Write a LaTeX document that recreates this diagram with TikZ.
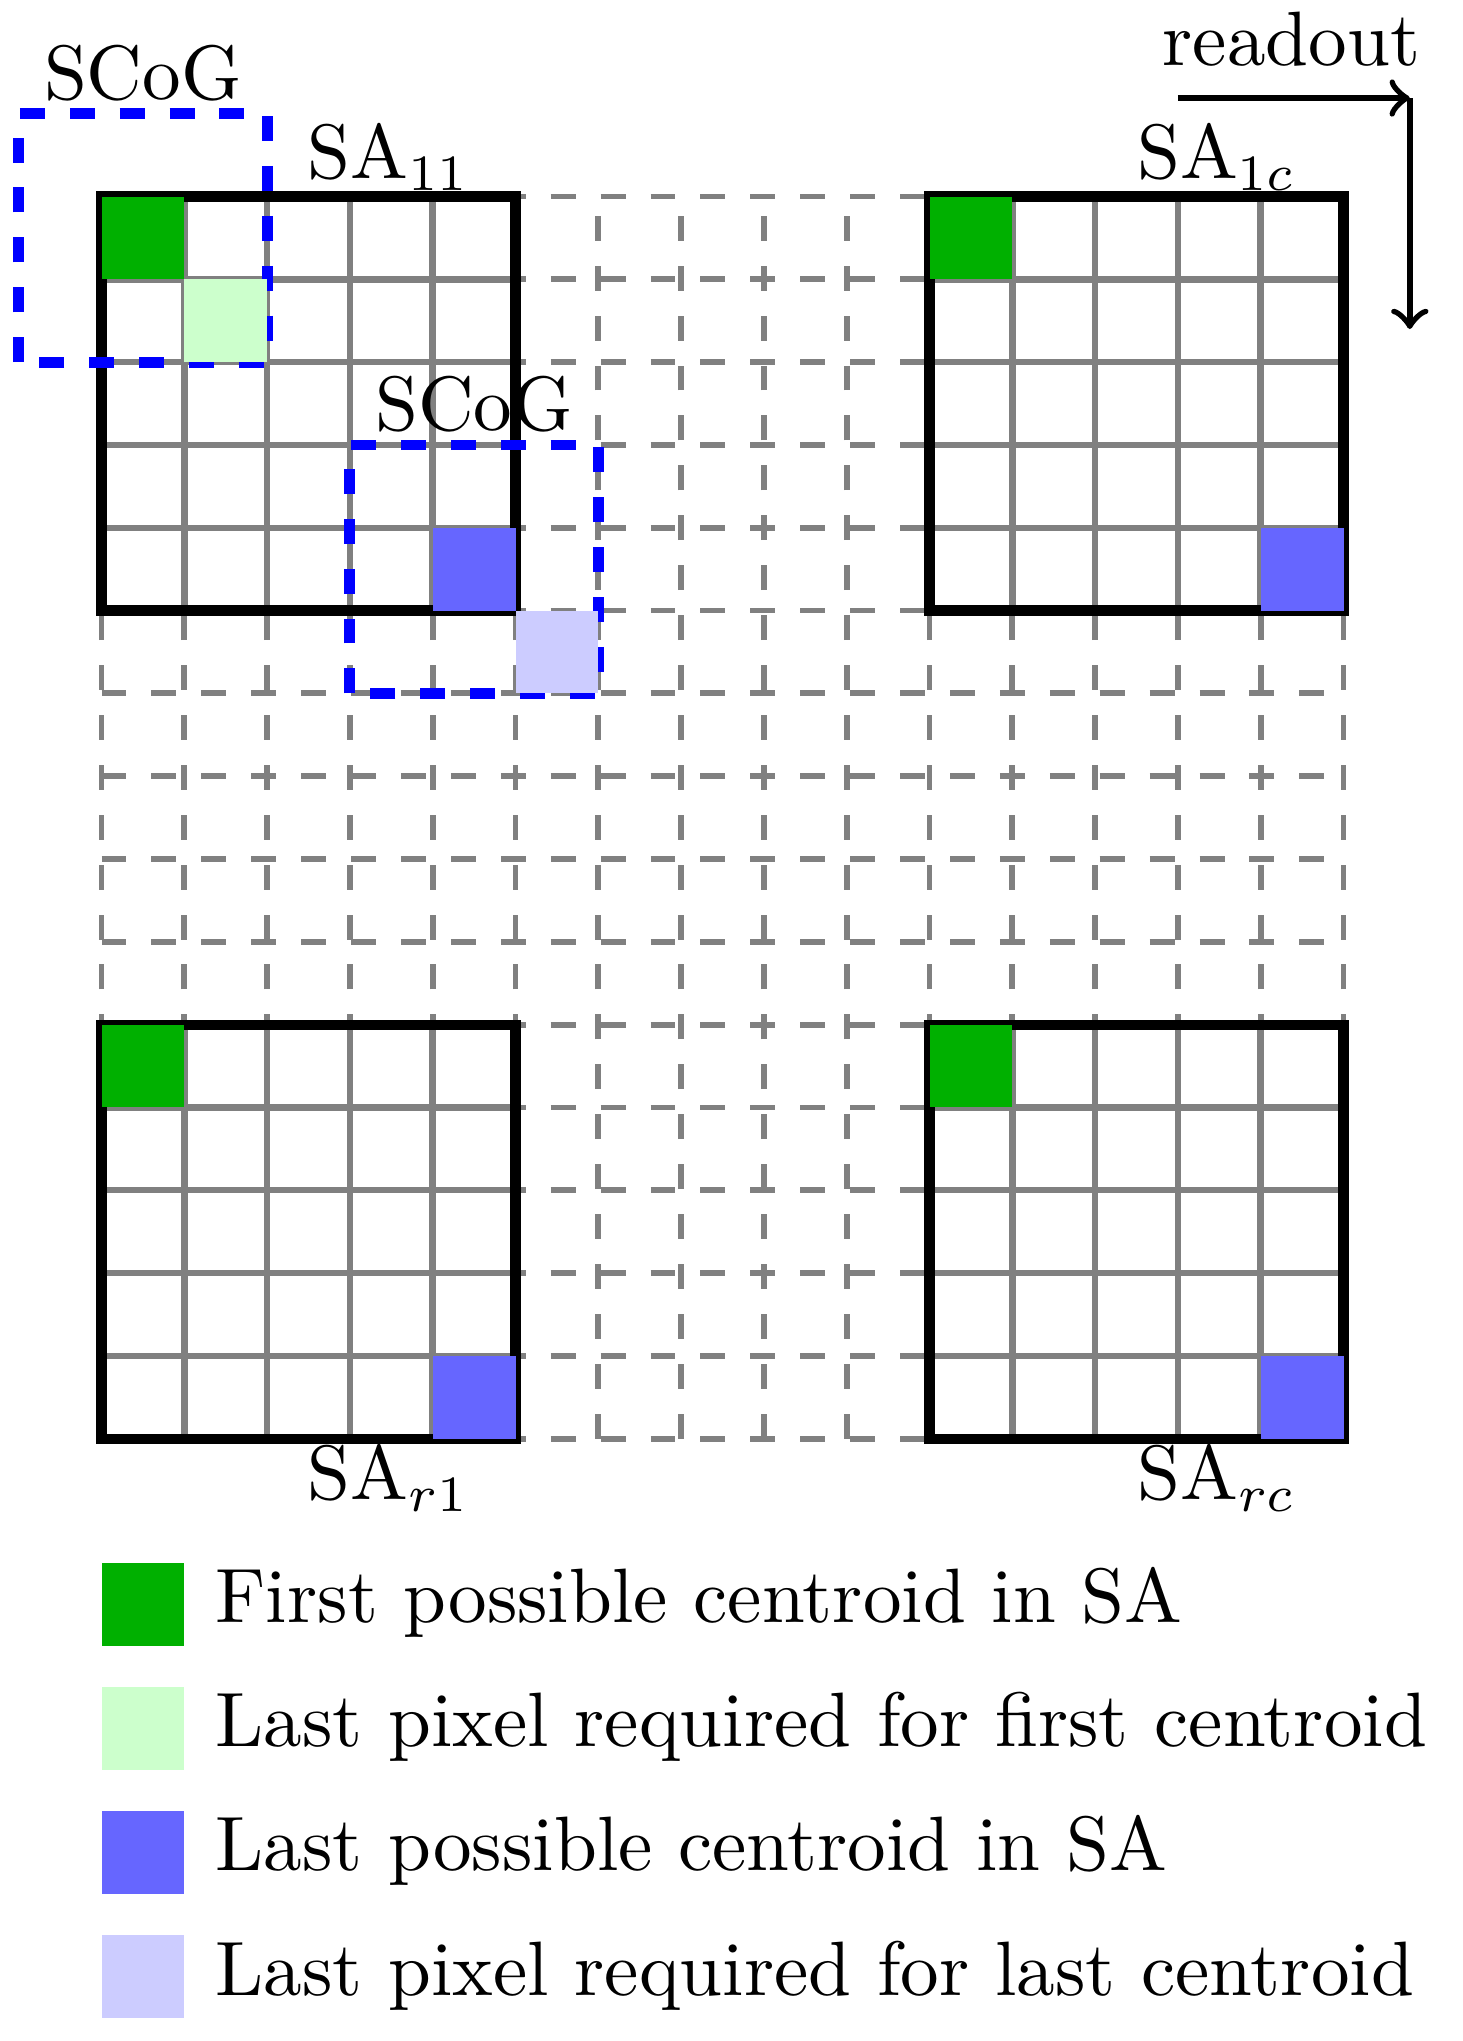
\documentclass[tikz,border=0pt]{standalone}
\definecolor{cgreen}{RGB}{0,176,0}
\definecolor{clgreen}{RGB}{204,255,204}
\definecolor{cblue}{RGB}{102,102,255}
\definecolor{clblue}{RGB}{204,204,255}
\begin{document}
\begin{tikzpicture}[x=0.4cm,y=0.4cm,
  font=\fontsize{10.6}{12.7}\selectfont,
  dgrid/.style={gray, line width=0.8pt, dash pattern=on 3.43pt off 3.43pt},
  sgrid/.style={gray, line width=0.9pt},
  sabox/.style={black, line width=1.4pt},
  scog/.style={blue, line width=1.5pt, dash pattern=on 3.43pt off 3.43pt},
  lbl/.style={anchor=base, inner sep=0pt},
  leg/.style={anchor=base west, inner sep=0pt},
  rarrow/.style={->, line width=0.9pt}]
\useasboundingbox (-1.226,2.374) rectangle (16.431,-22.275);
% dashed background grid
\foreach \i in {0,...,15} {
  \draw[dgrid] (0,-\i) -- (15,-\i);
  \draw[dgrid] (\i,-15) -- (\i,0);
}
% sub-apertures
\foreach \ox/\oy in {0/0,10/0,0/-10,10/-10} {
  \fill[white] (\ox,\oy) rectangle ++(5,-5);
  \foreach \k in {1,...,4} {
    \draw[sgrid] (\ox,\oy-\k) -- (\ox+5,\oy-\k);
    \draw[sgrid] (\ox+\k,\oy-5) -- (\ox+\k,\oy);
  }
  \draw[sabox] (\ox,\oy) rectangle ++(5,-5);
}
% SCoG windows
\draw[scog] (-1,-2) rectangle (2,1);
\draw[scog] (3,-6) rectangle (6,-3);
% coloured pixels
\foreach \ox/\oy in {0/0,10/0,0/-10,10/-10} {
  \fill[cgreen] (\ox,\oy) rectangle ++(1,-1);
  \fill[cblue] (\ox+4,\oy-4) rectangle ++(1,-1);
}
\fill[clgreen] (1,-1) rectangle (2,-2);
\fill[clblue] (5,-5) rectangle (6,-6);
% labels
\node[lbl] (scog1) at (0.5,1.175) {SCoG};
\node[lbl] (scog2) at (4.5,-2.82) {SCoG};
\node[lbl] (sa11) at (3.47,0.22) {SA$_{11}$};
\node[lbl] (sa1c) at (13.47,0.22) {SA$_{1c}$};
\node[lbl] (sar1) at (3.47,-15.74) {SA$_{r1}$};
\node[lbl] (sarc) at (13.47,-15.74) {SA$_{rc}$};
\node[lbl] (ro) at (14.37,1.577) {readout};
% readout arrows
\coordinate (r0) at (13,1.19);
\coordinate (r1) at (15.8,1.19);
\coordinate (r2) at (15.8,-1.6);
\draw[rarrow] (r0) -- (r1);
\draw[rarrow] (r1) -- (r2);
% legend
\fill[cgreen] (0,-16.5) rectangle (1,-17.5);
\fill[clgreen] (0,-18) rectangle (1,-19);
\fill[cblue] (0,-19.5) rectangle (1,-20.5);
\fill[clblue] (0,-21) rectangle (1,-22);
\node[leg] (l1) at (1.36,-17.22) {First possible centroid in SA};
\node[leg] (l2) at (1.36,-18.72) {Last pixel required for first centroid};
\node[leg] (l3) at (1.36,-20.22) {Last possible centroid in SA};
\node[leg] (l4) at (1.36,-21.72) {Last pixel required for last centroid};
\end{tikzpicture}
\end{document}
